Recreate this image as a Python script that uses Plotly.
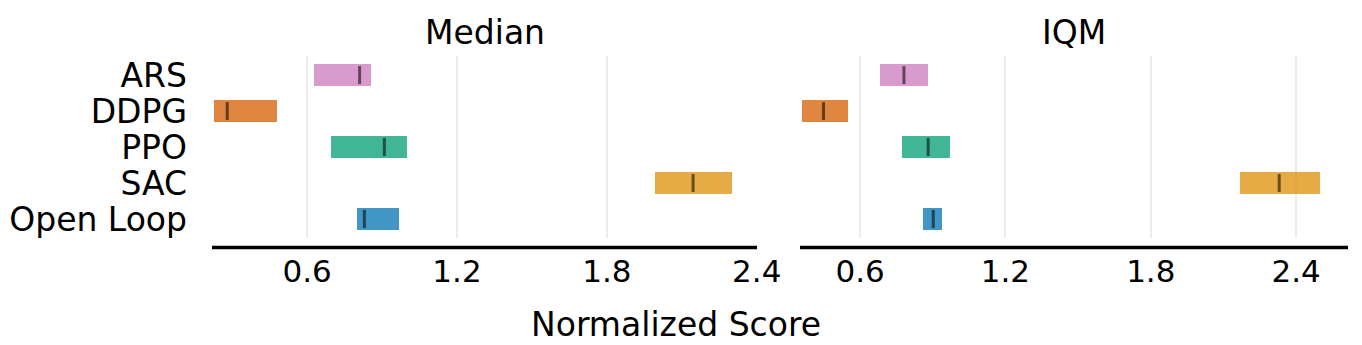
import plotly.graph_objects as go

algorithms = ["ARS", "DDPG", "PPO", "SAC", "Open Loop"]
colors = ["#cc78bc", "#d55e00", "#029e73", "#de8f05", "#0173b2"]

median_low = [0.627, 0.227, 0.694, 1.992, 0.799]
median_point = [0.810, 0.280, 0.909, 2.145, 0.829]
median_high = [0.857, 0.481, 1.000, 2.301, 0.967]

iqm_low = [0.683, 0.361, 0.775, 2.169, 0.859]
iqm_point = [0.781, 0.449, 0.881, 2.330, 0.902]
iqm_high = [0.879, 0.551, 0.973, 2.499, 0.938]

tick_vals = [0.6, 1.2, 1.8, 2.4]
tick_text = ["0.6", "1.2", "1.8", "2.4"]

panels = [
    ("Median", median_low, median_point, median_high, "x", "y", [0.219, 2.401]),
    ("IQM", iqm_low, iqm_point, iqm_high, "x2", "y2", [0.352, 2.614]),
]


def rgba(hex_color, a):
    h = hex_color.lstrip("#")
    r, g, b = int(h[0:2], 16), int(h[2:4], 16), int(h[4:6], 16)
    return f"rgba({r},{g},{b},{a})"


fig = go.Figure()
ypos = list(range(len(algorithms)))

for title, low, point, high, xa, ya, rng in panels:
    fig.add_trace(go.Bar(
        y=ypos,
        x=[h - l for l, h in zip(low, high)],
        base=low,
        orientation="h",
        width=0.6,
        marker=dict(color=[rgba(c, 0.75) for c in colors], line=dict(width=0)),
        xaxis=xa, yaxis=ya, showlegend=False, hoverinfo="skip",
    ))
    mx, my = [], []
    for i, p in enumerate(point):
        mx += [p, p, None]
        my += [i - 0.25, i + 0.25, None]
    fig.add_trace(go.Scatter(
        x=mx, y=my, mode="lines",
        line=dict(color="rgba(0,0,0,0.55)", width=3),
        xaxis=xa, yaxis=ya, showlegend=False, hoverinfo="skip",
    ))

font = dict(family="DejaVu Sans", size=33, color="black")
tickfont = dict(family="DejaVu Sans", size=31, color="black")

left_dom = [0, 545 / 1136]
right_dom = [588 / 1136, 1]

xcommon = dict(
    tickvals=tick_vals, ticktext=tick_text, showgrid=True, gridcolor="#ebebeb",
    gridwidth=1.5, zeroline=False, showline=False, ticks="", tickfont=tickfont,
    ticklabelstandoff=12, automargin=False,
)
ycommon = dict(range=[4.53, -0.53], tickvals=ypos, showgrid=False, zeroline=False,
               showline=False, ticks="", automargin=False)
fig.update_layout(
    width=1362, height=345,
    margin=dict(l=212, r=14, t=56, b=107, autoexpand=False),
    plot_bgcolor="white", paper_bgcolor="white",
    bargap=0, barmode="overlay",
    xaxis=dict(domain=left_dom, range=panels[0][6], anchor="y", **xcommon),
    xaxis2=dict(domain=right_dom, range=panels[1][6], anchor="y2", **xcommon),
    yaxis=dict(ticktext=algorithms, tickfont=font, ticklabelstandoff=24,
               anchor="x", **ycommon),
    yaxis2=dict(showticklabels=False, anchor="x2", **ycommon),
    font=font,
)

axis_y = -(247.5 - 238) / 182
for xr in ["x domain", "x2 domain"]:
    fig.add_shape(type="line", xref=xr, yref="paper", x0=0, x1=1,
                  y0=axis_y, y1=axis_y, line=dict(color="black", width=3.5))

title_y = (238 - 32) / 182
fig.add_annotation(text="Median", xref="x domain", yref="paper", x=0.5, y=title_y,
                   showarrow=False, font=font, xanchor="center", yanchor="middle")
fig.add_annotation(text="IQM", xref="x2 domain", yref="paper", x=0.5, y=title_y,
                   showarrow=False, font=font, xanchor="center", yanchor="middle")
fig.add_annotation(text="Normalized Score", xref="paper", yref="paper",
                   x=(675.7 - 212) / 1136, y=(238 - 324) / 182,
                   showarrow=False, font=font, xanchor="center", yanchor="middle")

fig.write_html("out.html")
